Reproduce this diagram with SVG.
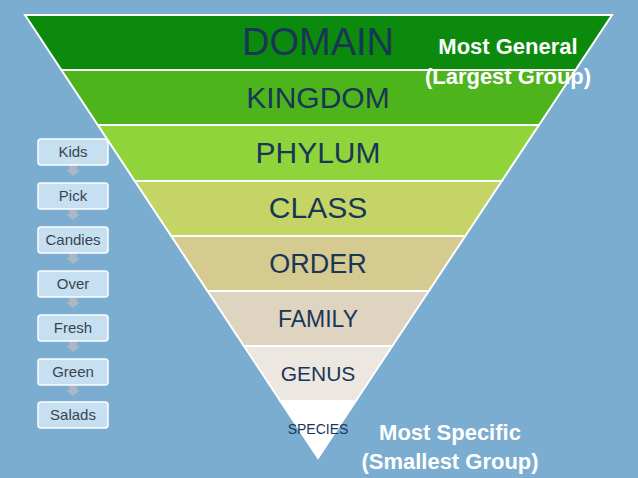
<svg xmlns="http://www.w3.org/2000/svg" width="638" height="478" viewBox="0 0 638 478">
<style>
.band{stroke:#fff;stroke-width:2}
.lbl{font-family:"Liberation Sans",Arial,sans-serif;fill:#1a3657;text-anchor:middle}
.box rect{fill:#c6dff1;stroke:#fff;stroke-width:1.5}
.box text{font-family:"Liberation Sans",Arial,sans-serif;font-size:15px;fill:#3a4450;text-anchor:middle}
.note{font-family:"Liberation Sans",Arial,sans-serif;font-weight:bold;font-size:22px;fill:#fff;text-anchor:middle}
.arr{fill:#a9b8c2}
</style>
<rect width="638" height="478" fill="#7aadd0"/>
<g id="domain"><polygon class="band" points="25,15 612,15 575.5,70 61.4,70" fill="#0b8a0d"/><text class="lbl" x="318" y="55" font-size="38">DOMAIN</text></g>
<g id="kingdom"><polygon class="band" points="61.4,70 575.5,70 539,125 97.8,125" fill="#4db41c"/><text class="lbl" x="318" y="108" font-size="30">KINGDOM</text></g>
<g id="phylum"><polygon class="band" points="97.8,125 539,125 501.8,181 134.8,181" fill="#8fd43b"/><text class="lbl" x="318" y="163" font-size="30">PHYLUM</text></g>
<g id="class"><polygon class="band" points="134.8,181 501.8,181 465.3,236 171.2,236" fill="#c4d566"/><text class="lbl" x="318" y="218" font-size="30">CLASS</text></g>
<g id="order"><polygon class="band" points="171.2,236 465.3,236 428.8,291 207.5,291" fill="#d5ca8f"/><text class="lbl" x="318" y="273" font-size="27">ORDER</text></g>
<g id="family"><polygon class="band" points="207.5,291 428.8,291 392.3,346 243.9,346" fill="#ded4c0"/><text class="lbl" x="318" y="327" font-size="23">FAMILY</text></g>
<g id="genus"><polygon class="band" points="243.9,346 392.3,346 355.8,401 280.3,401" fill="#ece7e1"/><text class="lbl" x="318" y="381" font-size="21">GENUS</text></g>
<g id="species"><polygon class="band" points="280.3,401 355.8,401 318,458" fill="#ffffff"/><text class="lbl" x="318" y="434" font-size="14">SPECIES</text></g>
<g id="general"><text class="note" x="508" y="54">Most General</text><text class="note" x="508" y="84">(Largest Group)</text></g>
<g id="specific"><text class="note" x="450" y="440">Most Specific</text><text class="note" x="450" y="469">(Smallest Group)</text></g>
<g id="connectors">
<path class="arr" d="M69,166h8v4h3l-7,6l-7-6h3z"/>
<path class="arr" d="M69,210h8v4h3l-7,6l-7-6h3z"/>
<path class="arr" d="M69,254h8v4h3l-7,6l-7-6h3z"/>
<path class="arr" d="M69,298h8v4h3l-7,6l-7-6h3z"/>
<path class="arr" d="M69,342h8v4h3l-7,6l-7-6h3z"/>
<path class="arr" d="M69,386h8v4h3l-7,6l-7-6h3z"/>
</g>
<g id="kids" class="box"><rect x="38" y="139" width="70" height="26" rx="3"/><text x="73" y="157">Kids</text></g>
<g id="pick" class="box"><rect x="38" y="183" width="70" height="26" rx="3"/><text x="73" y="201">Pick</text></g>
<g id="candies" class="box"><rect x="38" y="227" width="70" height="26" rx="3"/><text x="73" y="245">Candies</text></g>
<g id="over" class="box"><rect x="38" y="271" width="70" height="26" rx="3"/><text x="73" y="289">Over</text></g>
<g id="fresh" class="box"><rect x="38" y="315" width="70" height="26" rx="3"/><text x="73" y="333">Fresh</text></g>
<g id="green" class="box"><rect x="38" y="359" width="70" height="26" rx="3"/><text x="73" y="377">Green</text></g>
<g id="salads" class="box"><rect x="38" y="402" width="70" height="26" rx="3"/><text x="73" y="420">Salads</text></g>
</svg>
